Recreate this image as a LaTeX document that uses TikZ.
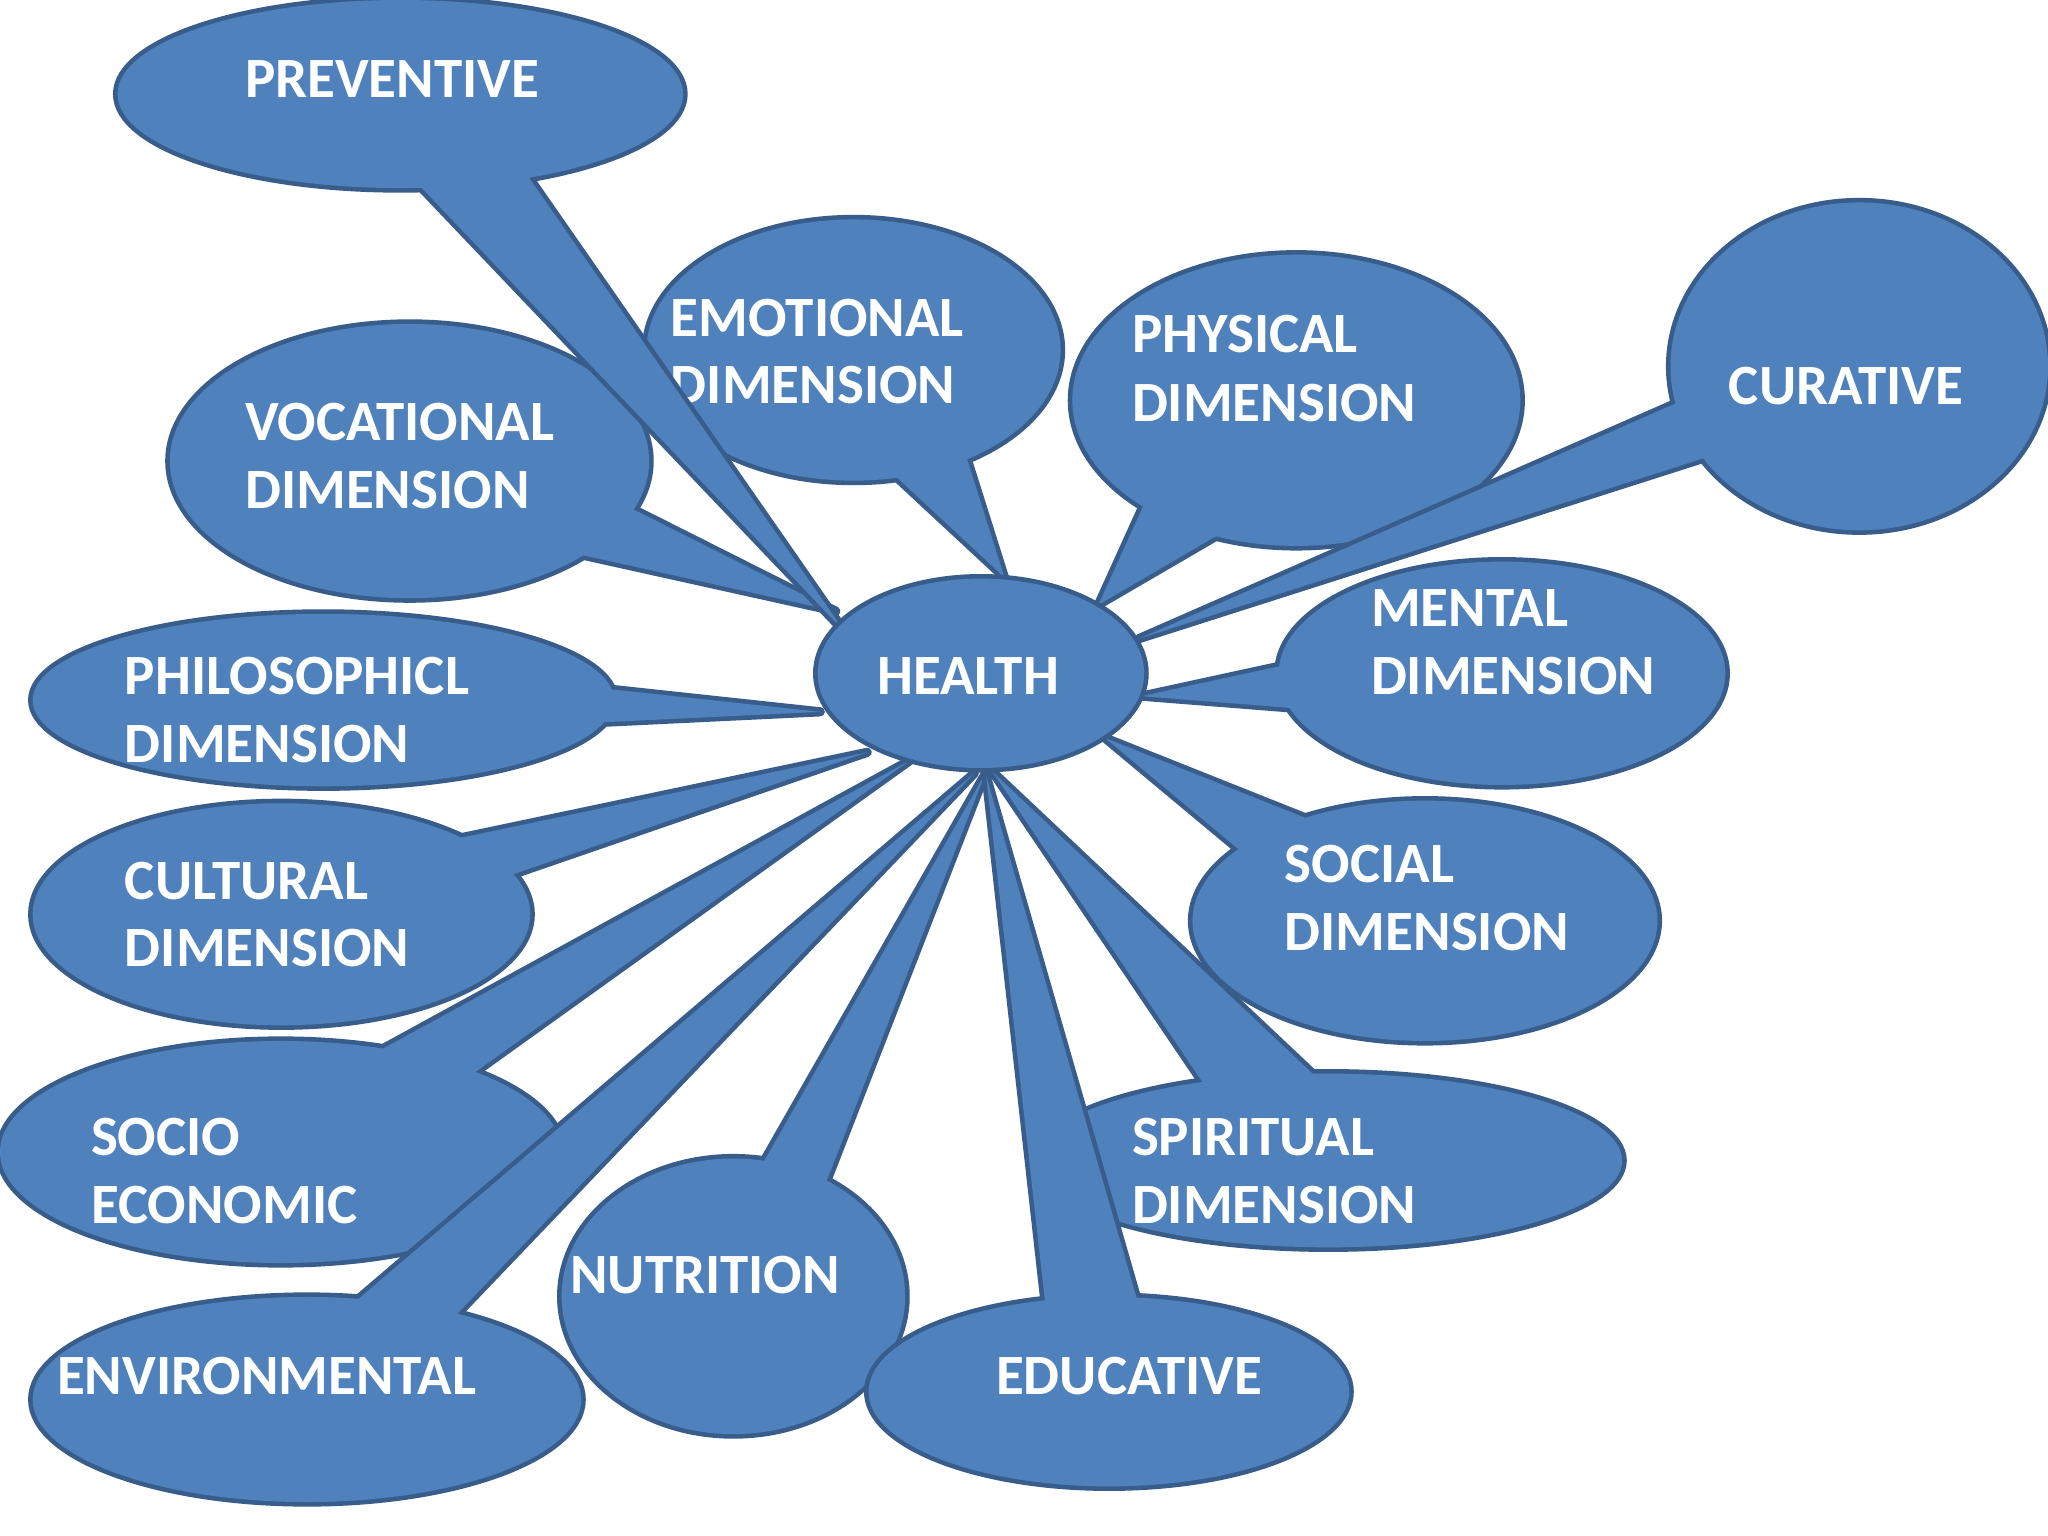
\documentclass[tikz,border=0pt]{standalone}
\usepackage{fontspec}
\newfontfamily\carl{Carlito}
\usetikzlibrary{calc}
\definecolor{bubblue}{HTML}{4F81BD}
\definecolor{bubedge}{HTML}{385D8A}
\tikzset{
  bubstroke/.style={draw=bubedge, line width=2pt, line join=round, fill=bubblue},
  lbltext/.style={text=white, font=\carl\bfseries\fontsize{12.4}{14.5}\selectfont, anchor=base west, inner sep=0pt},
}
% #1 centre, #2 rx, #3 ry, #4 base point 1, #5 base point 2, #6 tip
\newcommand\bubble[6]{%
  \path[bubstroke] (#1) ellipse ({#2*0.01cm} and {#3*0.01cm});
  \path[bubstroke] ($(#4)!-0.25cm!(#6)$) -- (#6) -- ($(#5)!-0.25cm!(#6)$) -- cycle;
  \fill[bubblue] (#1) ellipse ({#2*0.01cm} and {#3*0.01cm});
  \fill[bubblue] ($(#4)!-0.25cm!(#6)$) -- (#6) -- ($(#5)!-0.25cm!(#6)$) -- cycle;
}
\begin{document}
\begin{tikzpicture}[x=0.01cm,y=-0.01cm]
\useasboundingbox (0,0) rectangle (1568,1176);
\fill[white] (0,0) rectangle (1568,1176);

% centres
\coordinate (voc) at (313.5,353);
\coordinate (emo) at (653.5,268);
\coordinate (pre) at (306.5,72);
\coordinate (phy) at (992.5,306.5);
\coordinate (cur) at (1423.5,280.5);
\coordinate (men) at (1150,515.5);
\coordinate (soc) at (1091,705);
\coordinate (phi) at (247.5,536);
\coordinate (cul) at (215.5,700);
\coordinate (sec) at (215,882);
\coordinate (env) at (235,1071.5);
\coordinate (nut) at (561.5,992.5);
\coordinate (spi) at (1017,888.5);
\coordinate (edu) at (849,1065.5);
\coordinate (hea) at (751,515.5);

% pointer bases
\coordinate (voc-a) at (485,390);   \coordinate (voc-b) at (446,425);
\coordinate (emo-a) at (685,364);   \coordinate (emo-b) at (740,350);
\coordinate (pre-a) at (323,144);   \coordinate (pre-b) at (405,136);
\coordinate (phy-a) at (875,388);   \coordinate (phy-b) at (932,410);
\coordinate (cur-a) at (1285,308);  \coordinate (cur-b) at (1307,350);
\coordinate (men-a) at (980,510);   \coordinate (men-b) at (988,542);
\coordinate (soc-a) at (999,626);   \coordinate (soc-b) at (948,650);
\coordinate (phi-a) at (470,528);   \coordinate (phi-b) at (462,553);
\coordinate (cul-a) at (355,641);   \coordinate (cul-b) at (394,669);
\coordinate (sec-a) at (293,803);   \coordinate (sec-b) at (365,820);
\coordinate (env-a) at (275,994);   \coordinate (env-b) at (350,1006);
\coordinate (nut-a) at (585,889);   \coordinate (nut-b) at (633,904);
\coordinate (spi-a) at (921,829);   \coordinate (spi-b) at (1005,822);
\coordinate (edu-a) at (800,996);   \coordinate (edu-b) at (870,993);

% pointer tips at HEALTH
\coordinate (voc-t) at (640,468);
\coordinate (emo-t) at (769,442);
\coordinate (pre-t) at (647,484);
\coordinate (phy-t) at (841,463);
\coordinate (cur-t) at (872,489);
\coordinate (men-t) at (874,533);
\coordinate (soc-t) at (846,565);
\coordinate (phi-t) at (628,545);
\coordinate (cul-t) at (664,576);
\coordinate (sec-t) at (697,582);
\coordinate (env-t) at (746,592);
\coordinate (nut-t) at (754,593);
\coordinate (spi-t) at (760,591);
\coordinate (edu-t) at (755,594);

\bubble{voc}{183.5}{105}{voc-a}{voc-b}{voc-t}
\node[lbltext] (voc1) at (187,337) {VOCATIONAL};
\node[lbltext] (voc2) at (187,389) {DIMENSION};

\bubble{emo}{158.5}{100}{emo-a}{emo-b}{emo-t}
\node[lbltext] (emo1) at (513,258) {EMOTIONAL};
\node[lbltext] (emo2) at (513,309) {DIMENSION};

\bubble{pre}{216.5}{72}{pre-a}{pre-b}{pre-t}
\node[lbltext] (pre1) at (187,75) {PREVENTIVE};

\bubble{phy}{171.5}{111.5}{phy-a}{phy-b}{phy-t}
\node[lbltext] (phy1) at (866,270) {PHYSICAL};
\node[lbltext] (phy2) at (866,323) {DIMENSION};

\bubble{cur}{144.5}{125.5}{cur-a}{cur-b}{cur-t}
\node[lbltext] (cur1) at (1323,310) {CURATIVE};

\bubble{men}{171}{85.5}{men-a}{men-b}{men-t}
\node[lbltext] (men1) at (1049,480) {MENTAL};
\node[lbltext] (men2) at (1049,532) {DIMENSION};

\bubble{soc}{178}{92}{soc-a}{soc-b}{soc-t}
\node[lbltext] (soc1) at (983,676) {SOCIAL};
\node[lbltext] (soc2) at (983,728) {DIMENSION};

\bubble{phi}{222.5}{66}{phi-a}{phi-b}{phi-t}
\node[lbltext] (phi1) at (95,532) {PHILOSOPHICL};
\node[lbltext] (phi2) at (95,584) {DIMENSION};

\bubble{cul}{190.5}{85}{cul-a}{cul-b}{cul-t}
\node[lbltext] (cul1) at (95,689) {CULTURAL};
\node[lbltext] (cul2) at (95,740) {DIMENSION};

\bubble{sec}{215}{85}{sec-a}{sec-b}{sec-t}
\node[lbltext] (sec1) at (69,885) {SOCIO};
\node[lbltext] (sec2) at (69,937) {ECONOMIC};

\bubble{env}{210}{78.5}{env-a}{env-b}{env-t}
\node[lbltext] (env1) at (43,1068) {ENVIRONMENTAL};

\bubble{nut}{131.5}{105.5}{nut-a}{nut-b}{nut-t}
\node[lbltext] (nut1) at (436,990) {NUTRITION};

\bubble{spi}{225}{66.5}{spi-a}{spi-b}{spi-t}
\node[lbltext] (spi1) at (866,885) {SPIRITUAL};
\node[lbltext] (spi2) at (866,937) {DIMENSION};

\bubble{edu}{184}{72.5}{edu-a}{edu-b}{edu-t}
\node[lbltext] (edu1) at (762,1068) {EDUCATIVE};

% HEALTH
\path[bubstroke] (hea) ellipse ({125*0.01cm} and {72.5*0.01cm});
\fill[bubblue] (hea) ellipse ({125*0.01cm} and {72.5*0.01cm});
\node[lbltext] (hea1) at (671,532) {HEALTH};
\end{tikzpicture}
\end{document}
